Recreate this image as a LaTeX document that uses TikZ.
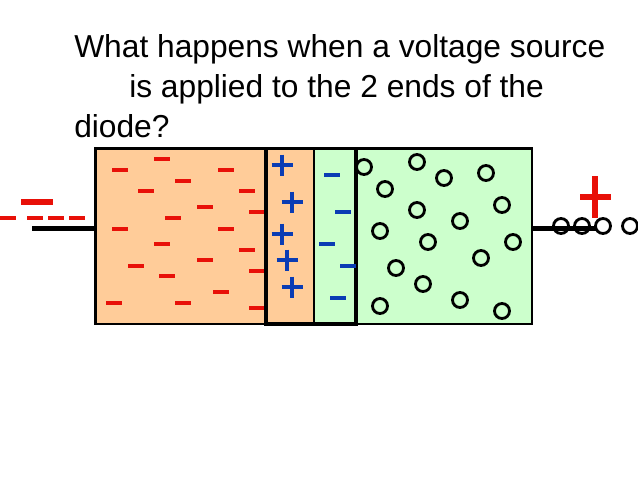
\documentclass[tikz,border=0pt]{standalone}
\usepackage{fontspec}
\setmainfont{Liberation Sans}
\definecolor{chargered}{HTML}{E81008}
\definecolor{chargeblue}{HTML}{0A3CB4}
\definecolor{ptype}{HTML}{FFCC99}
\definecolor{ntype}{HTML}{CCFFCC}
\tikzset{
    headline/.style={anchor=base west,inner sep=0pt,font=\fontsize{23.8pt}{26pt}\selectfont},
    electron/.style={draw=chargered,line width=3pt},
    bigcharge/.style={draw=chargered,line width=3.8pt},
    bluecharge/.style={draw=chargeblue,line width=3.2pt},
    hole/.style={draw=black,line width=2.1pt},
    wire/.style={draw=black,line width=4pt}
}
\begin{document}
\begin{tikzpicture}[x=0.75pt,y=-0.75pt]
                \useasboundingbox (0,0) rectangle (638,479);

                \node[headline] (line1) at (74,57) {What happens when a voltage source};
                \node[headline] (line2) at (129,97) {is applied to the 2 ends of the};
                \node[headline] (line3) at (74,137) {diode?};

                \coordinate (pleft) at (95.5,228.5);
                \coordinate (nright) at (532,228.5);
                \coordinate (wireleft) at (32,228.5);
                \coordinate (wireright) at (596,228.5);

                \fill[ptype] (95.5,148.5) rectangle (314,324);
                \fill[ntype] (314,148.5) rectangle (532,324);
                \draw[line width=1.6pt] (95.5,148.5) rectangle (532,324);

                \draw[wire] (wireleft) -- (pleft);
                \draw[wire] (nright) -- (wireright);

                % electrons on the p side
                \foreach \x/\y in {120/170,162/159,226/170,183/181,146/191,247/191,205/207,257/212,
                    173/218,120/229,226/229,162/244,247/250,136/266,205/260,257/271,167/276,
                    221/292,114/303,183/303,257/308}
                    \draw[electron] (\x-8,\y) -- (\x+8,\y);

                % free electrons on the wire
                \draw[bigcharge] (21,202) -- (53,202);
                \foreach \x in {8,35,56,77}
                    \draw[electron] (\x-8,218) -- (\x+8,218);
                \draw[bigcharge] (580,197) -- (611,197);
                \draw[bigcharge] (595,176) -- (595,218);

                % depletion layer
                \draw[line width=2.3pt] (266,148.5) rectangle (356,324);
                \draw[line width=1.6pt] (314,148.5) -- (314,324);

                \foreach \x/\y in {282/165,292/202,282/234,287/260,292/287} {
                    \draw[bluecharge] (\x-10.5,\y) -- (\x+10.5,\y);
                    \draw[bluecharge] (\x,\y-10.5) -- (\x,\y+10.5);
                }
                \foreach \x/\y in {332/175,343/212,327/244,348/266,338/298}
                    \draw[bluecharge] (\x-8,\y) -- (\x+8,\y);

                % holes
                \foreach \x/\y in {364/167,417/162,444/178,486/173,385/189,502/205,417/210,460/221,
                    380/231,428/242,513/242,481/258,396/268,423/284,380/306,460/300,502/311,
                    561/226,582/226,603/226,630/226}
                    \draw[hole] (\x,\y) circle (7.5);
            \end{tikzpicture}
\end{document}
